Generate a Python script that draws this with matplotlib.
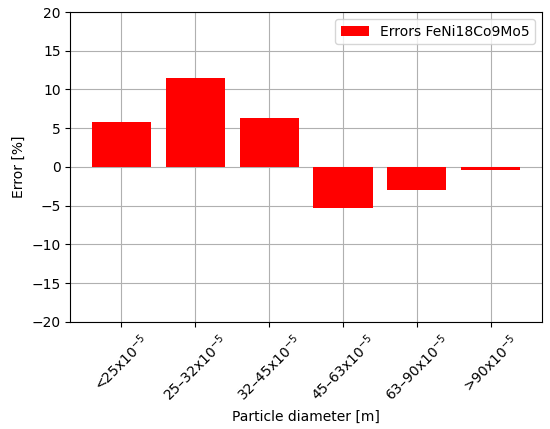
import matplotlib.pyplot as plt

categories = ['<25x10$^{-5}$', '25–32x10$^{-5}$', '32–45x10$^{-5}$',
              '45–63x10$^{-5}$', '63–90x10$^{-5}$', '>90x10$^{-5}$']
errors = [5.8, 11.5, 6.3, -5.3, -3.0, -0.4]

fig, ax = plt.subplots(figsize=(5.5, 4.29), dpi=100)
ax.bar(range(len(categories)), errors, color='red', label='Errors FeNi18Co9Mo5', zorder=3)
ax.set_xticks(range(len(categories)))
ax.set_xticklabels(categories, rotation=45)
ax.set_ylim(-20, 20)
ax.set_yticks(range(-20, 21, 5))
ax.grid(True, zorder=0)
ax.set_xlabel('Particle diameter [m]')
ax.set_ylabel('Error [%]')
ax.legend(loc='upper right')
fig.subplots_adjust(left=0.128, right=0.985, top=0.972, bottom=0.25)
fig.savefig('out.png')
